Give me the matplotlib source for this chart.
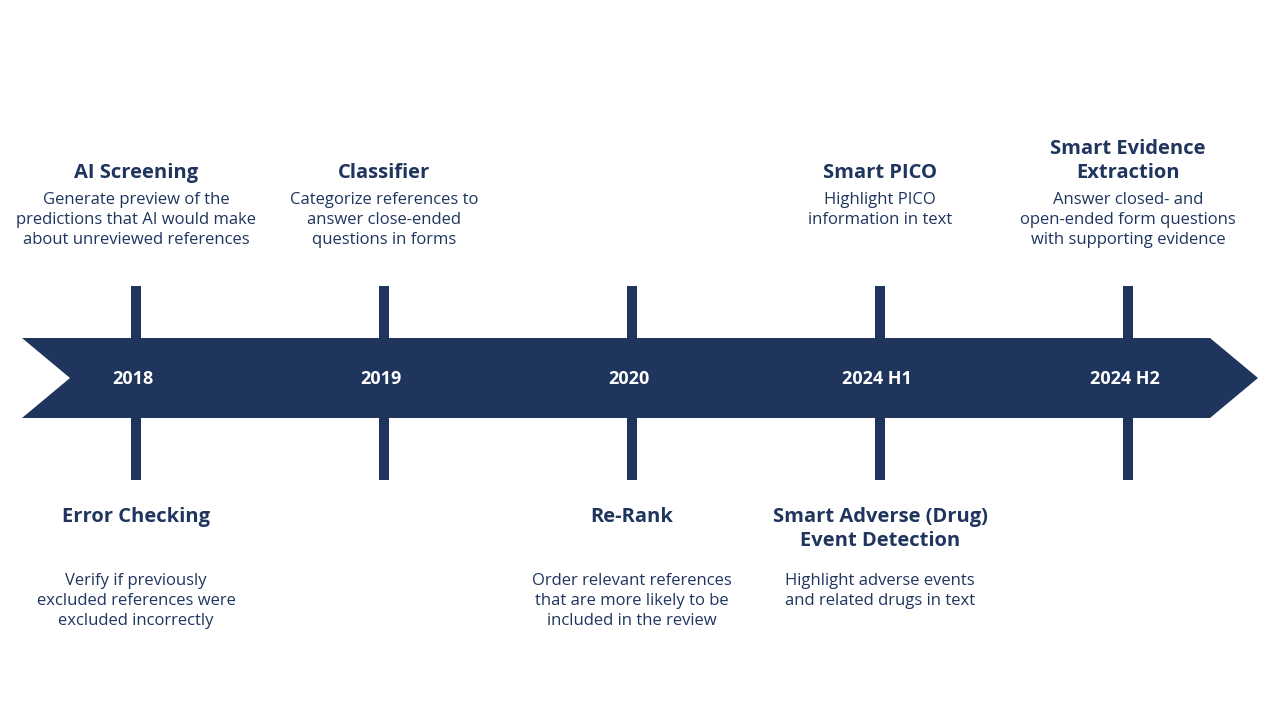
import matplotlib
matplotlib.use("Agg")
import matplotlib.pyplot as plt
from matplotlib.patches import Polygon, Rectangle

years = ["2018", "2019", "2020", "2024 H1", "2024 H2"]
top_titles = ["AI Screening", "Classifier", "", "Smart PICO", "Smart Evidence\nExtraction"]
top_descs = ["Generate preview of the\npredictions that AI would make\nabout unreviewed references",
             "Categorize references to\nanswer close-ended\nquestions in forms",
             "",
             "Highlight PICO\ninformation in text",
             "Answer closed- and\nopen-ended form questions\nwith supporting evidence"]
bottom_titles = ["Error Checking", "", "Re-Rank", "Smart Adverse (Drug)\nEvent Detection", ""]
bottom_descs = ["Verify if previously\nexcluded references were\nexcluded incorrectly",
                "",
                "Order relevant references\nthat are more likely to be\nincluded in the review",
                "Highlight adverse events\nand related drugs in text",
                ""]

navy = "#1f355e"
font = "Open Sans"

fig = plt.figure(figsize=(12.8, 7.2), dpi=100)
ax = fig.add_axes([0, 0, 1, 1])
ax.set_xlim(0, 1280)
ax.set_ylim(720, 0)
ax.axis("off")

ax.add_patch(Polygon([(22, 338), (1210, 338), (1258, 378), (1210, 418), (22, 418), (70, 378)],
                     closed=True, color=navy, lw=0))

x0, dx = 136, 248
for i, yr in enumerate(years):
    x = x0 + dx * i
    ax.add_patch(Rectangle((x - 5, 286), 10, 52, color=navy, lw=0))
    ax.add_patch(Rectangle((x - 5, 418), 10, 62, color=navy, lw=0))
    ax.text(x - 3, 379, yr, color="white", fontsize=13, fontweight="bold",
            family=font, ha="center", va="center")
    if top_titles[i]:
        ax.text(x, 183, top_titles[i], color=navy, fontsize=14.5, fontweight="bold",
                family=font, ha="center", va="bottom", linespacing=1.25)
    if top_descs[i]:
        ax.text(x, 192, top_descs[i], color=navy, fontsize=12, family=font,
                ha="center", va="top", linespacing=1.35)
    if bottom_titles[i]:
        ax.text(x, 507, bottom_titles[i], color=navy, fontsize=14.5, fontweight="bold",
                family=font, ha="center", va="top", linespacing=1.25)
    if bottom_descs[i]:
        ax.text(x, 573, bottom_descs[i], color=navy, fontsize=12, family=font,
                ha="center", va="top", linespacing=1.35)

fig.savefig("out.png", dpi=100, facecolor="white")
